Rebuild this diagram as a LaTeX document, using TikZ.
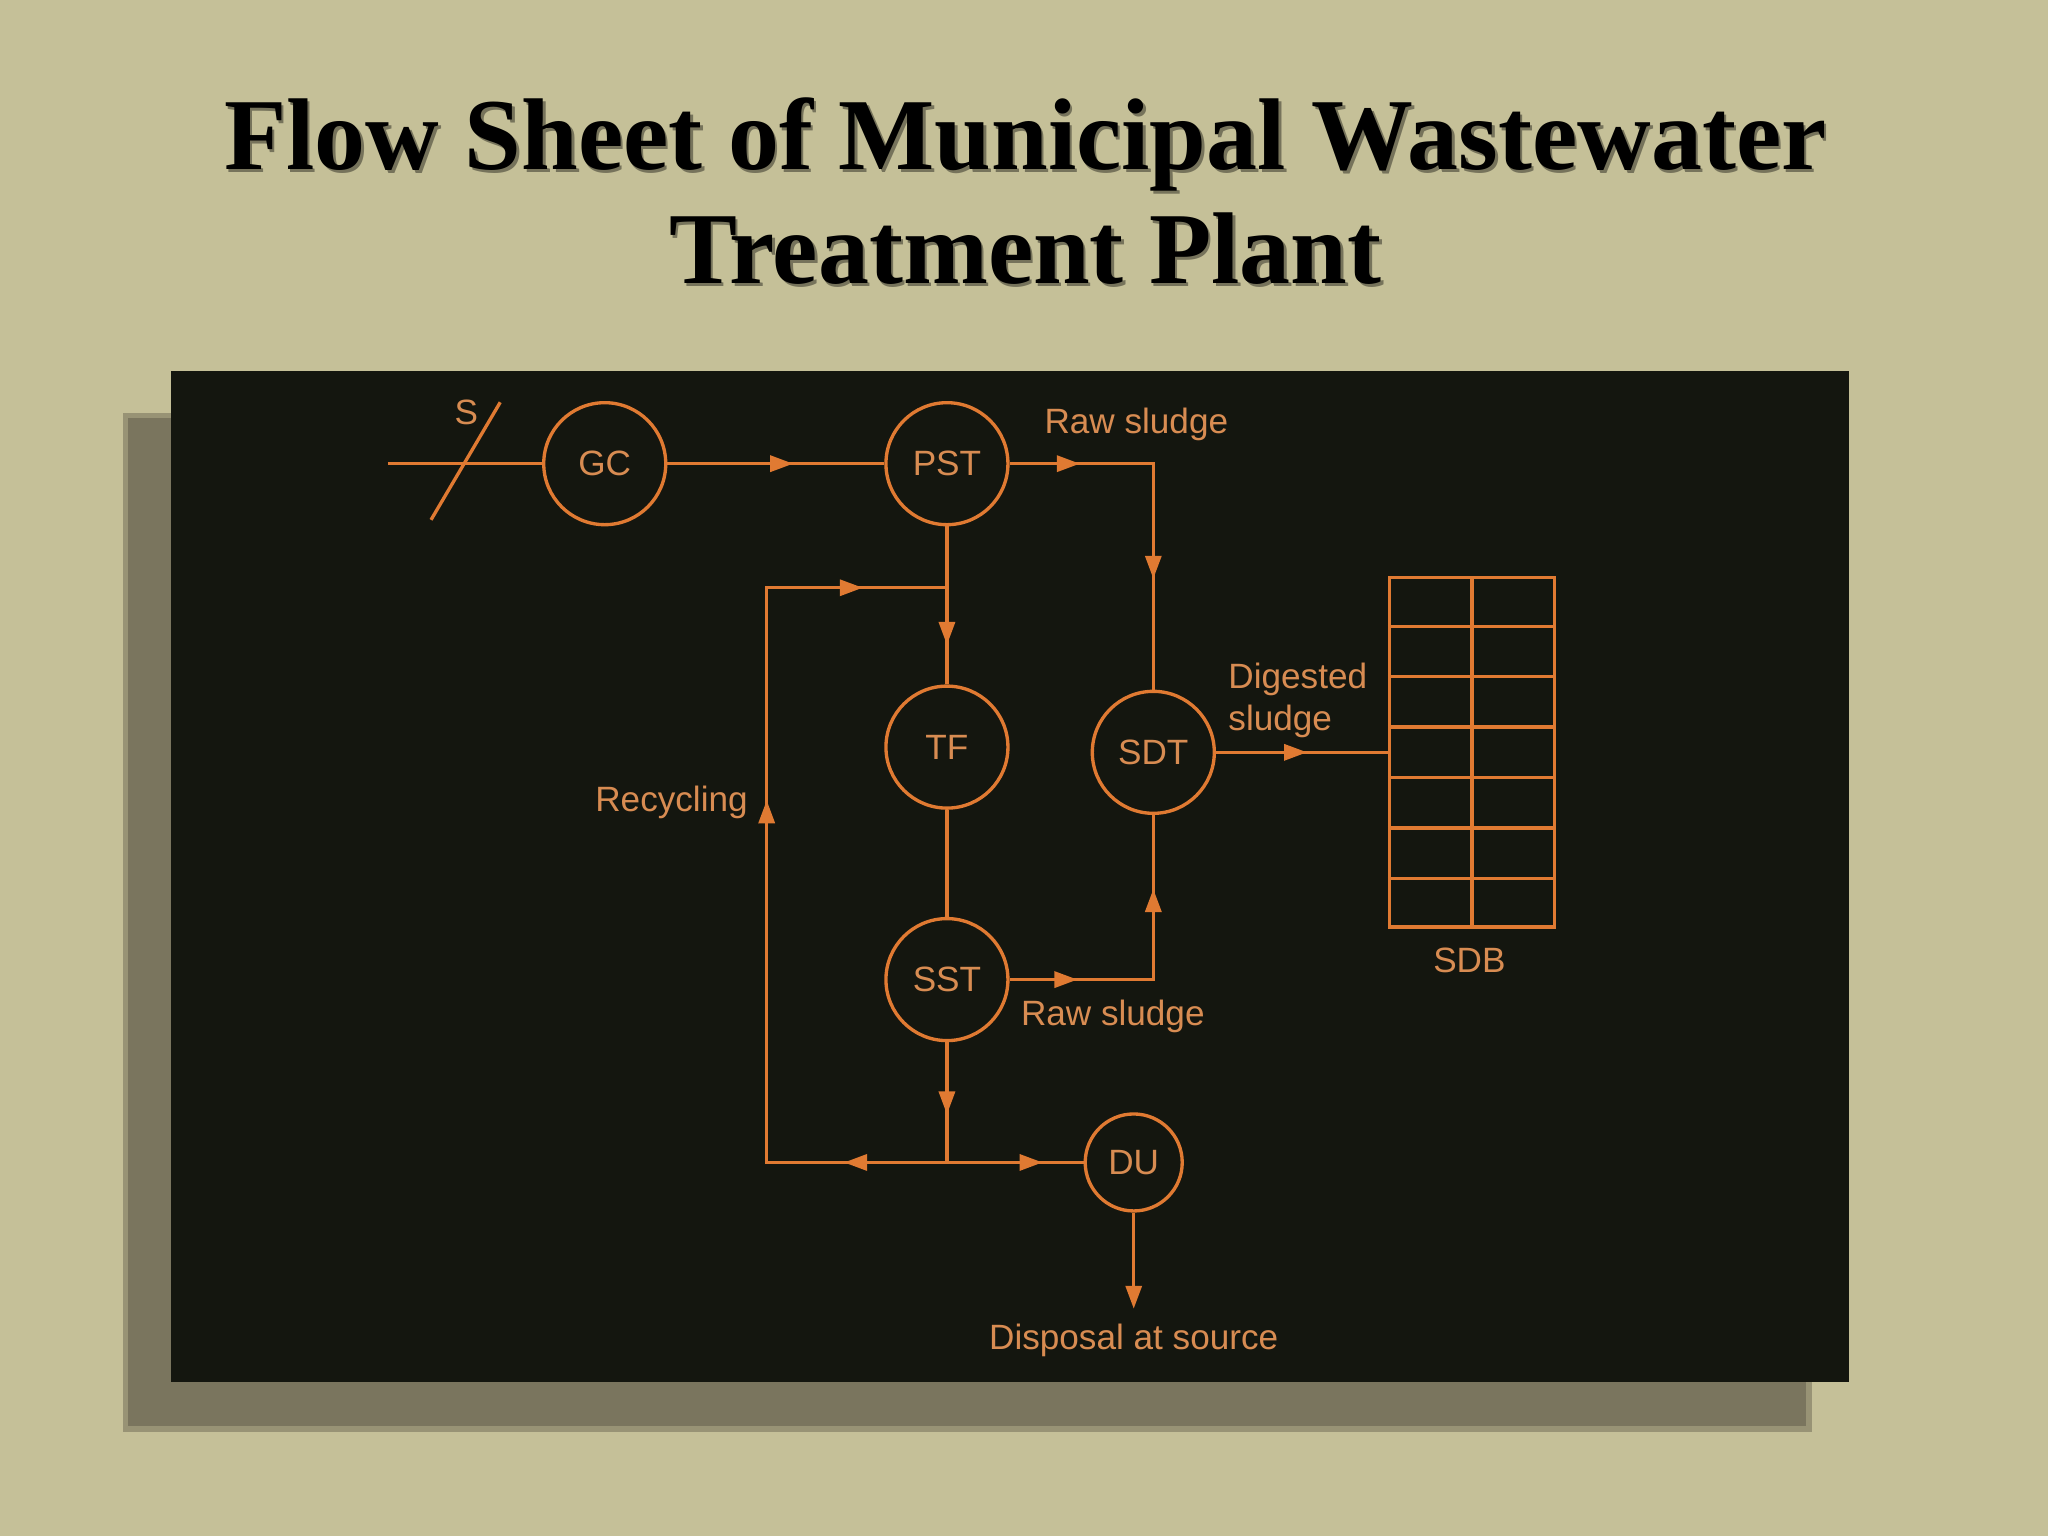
\documentclass[tikz,border=0pt]{standalone}
\usepackage{fontspec}
\setmainfont{Liberation Serif}
\newfontfamily\diagfont{Liberation Sans}
\usetikzlibrary{arrows.meta,decorations.markings,calc}

\definecolor{slidebg}{RGB}{197,192,152}
\definecolor{dropshade}{RGB}{122,117,94}
\definecolor{board}{RGB}{20,22,15}
\definecolor{ink}{RGB}{224,122,50}
\definecolor{inktext}{RGB}{216,140,82}

\tikzset{
  unit/.style={circle, draw=ink, line width=0.95pt, minimum size=1.22cm, inner sep=0pt,
    text=inktext, font=\diagfont\fontsize{10}{12}\selectfont},
  pipe/.style={draw=ink, line width=0.95pt},
  flowat/.style={postaction={decorate, decoration={markings,
    mark=at position #1 with {\arrow[ink]{Triangle[length=2.3mm,width=1.6mm]}}}}},
  tag/.style={text=inktext, font=\diagfont\fontsize{10}{12}\selectfont, inner sep=0pt},
  headline/.style={font=\bfseries\fontsize{29}{34}\selectfont, anchor=base},
}

\begin{document}
\begin{tikzpicture}[x=0.1306cm, y=-0.1306cm]
  % slide and photo
  \fill[slidebg] (0,0) rectangle (156.8,117.6);
  \useasboundingbox (0,0) rectangle (156.8,117.6);
  \fill[dropshade!60!slidebg] (9.4,31.6) rectangle (138.7,109.6);
  \fill[dropshade] (9.8,32.0) rectangle (138.3,109.2);
  \fill[board] (13.1,28.4) rectangle (141.6,105.8);

  % title
  \node[headline, text=black!40!slidebg] at (78.7,13.2) {Flow Sheet of Municipal Wastewater};
  \node[headline, text=black!40!slidebg] at (78.7,21.9) {Treatment Plant};
  \node[headline] (title) at (78.5,13.0) {Flow Sheet of Municipal Wastewater};
  \node[headline] (subtitle) at (78.5,21.7) {Treatment Plant};

  % units
  \node[unit] (GC) at (46.3,35.5) {GC};
  \node[unit] (PST) at (72.5,35.5) {PST};
  \node[unit] (TF) at (72.5,57.2) {TF};
  \node[unit] (SDT) at (88.3,57.6) {SDT};
  \node[unit] (SST) at (72.5,75.0) {SST};
  \node[unit, minimum size=0.97cm] (DU) at (86.8,89.0) {DU};
  \node[draw=ink, line width=0.95pt, minimum width=1.65cm, minimum height=3.49cm, inner sep=0pt] (SDB) at (112.7,57.6) {};

  \coordinate (inlet) at (29.7,35.5);
  \coordinate (split) at (72.5,89.0);
  \coordinate (back) at (58.7,89.0);
  \coordinate (mix) at (72.5,45.0);
  \coordinate (outlet) at (86.8,100.2);

  % screen
  \draw[pipe] (inlet) -- (GC);
  \draw[pipe] (38.3,30.8) -- (33.0,39.8);
  \node[tag] (S) at (35.7,31.6) {S};

  % flows
  \draw[pipe, flowat=0.58] (GC) -- (PST);
  \draw[pipe, flowat=0.19, flowat=0.70] (PST) -- (PST -| SDT) -- (SDT);
  \draw[pipe, flowat=0.75] (PST) -- (TF);
  \draw[pipe] (TF) -- (SST);
  \draw[pipe, flowat=0.22, flowat=0.76] (SST) -- (SST -| SDT) -- (SDT);
  \draw[pipe, flowat=0.6] (SST) -- (split);
  \draw[pipe, flowat=0.7] (split) -- (DU);
  \draw[pipe, flowat=0.11, flowat=0.58, flowat=0.91] (split) -- (back) -- (back |- mix) -- (mix);
  \draw[pipe, -{Triangle[length=2.3mm,width=1.6mm]}] (DU) -- (outlet);
  \draw[pipe, flowat=0.53] (SDT) -- (SDT -| SDB.west);

  % drying beds
  \foreach \r in {1,...,6}
    \draw[pipe] ($(SDB.north west)!\r/7!(SDB.south west)$) -- ($(SDB.north east)!\r/7!(SDB.south east)$);
  \draw[pipe] (SDB.north) -- (SDB.south);

  % labels
  \node[tag] (rawtop) at (87.0,32.5) {Raw sludge};
  \node[tag] (rawbot) at (85.2,77.8) {Raw sludge};
  \node[tag, anchor=east] (recyc) at (57.3,61.4) {Recycling};
  \node[tag, align=left, anchor=west] (dig) at (94.0,53.6) {Digested\\sludge};
  \node[tag] (sdbname) at (112.5,73.5) {SDB};
  \node[tag] (disp) at (86.8,102.6) {Disposal at source};
\end{tikzpicture}
\end{document}
